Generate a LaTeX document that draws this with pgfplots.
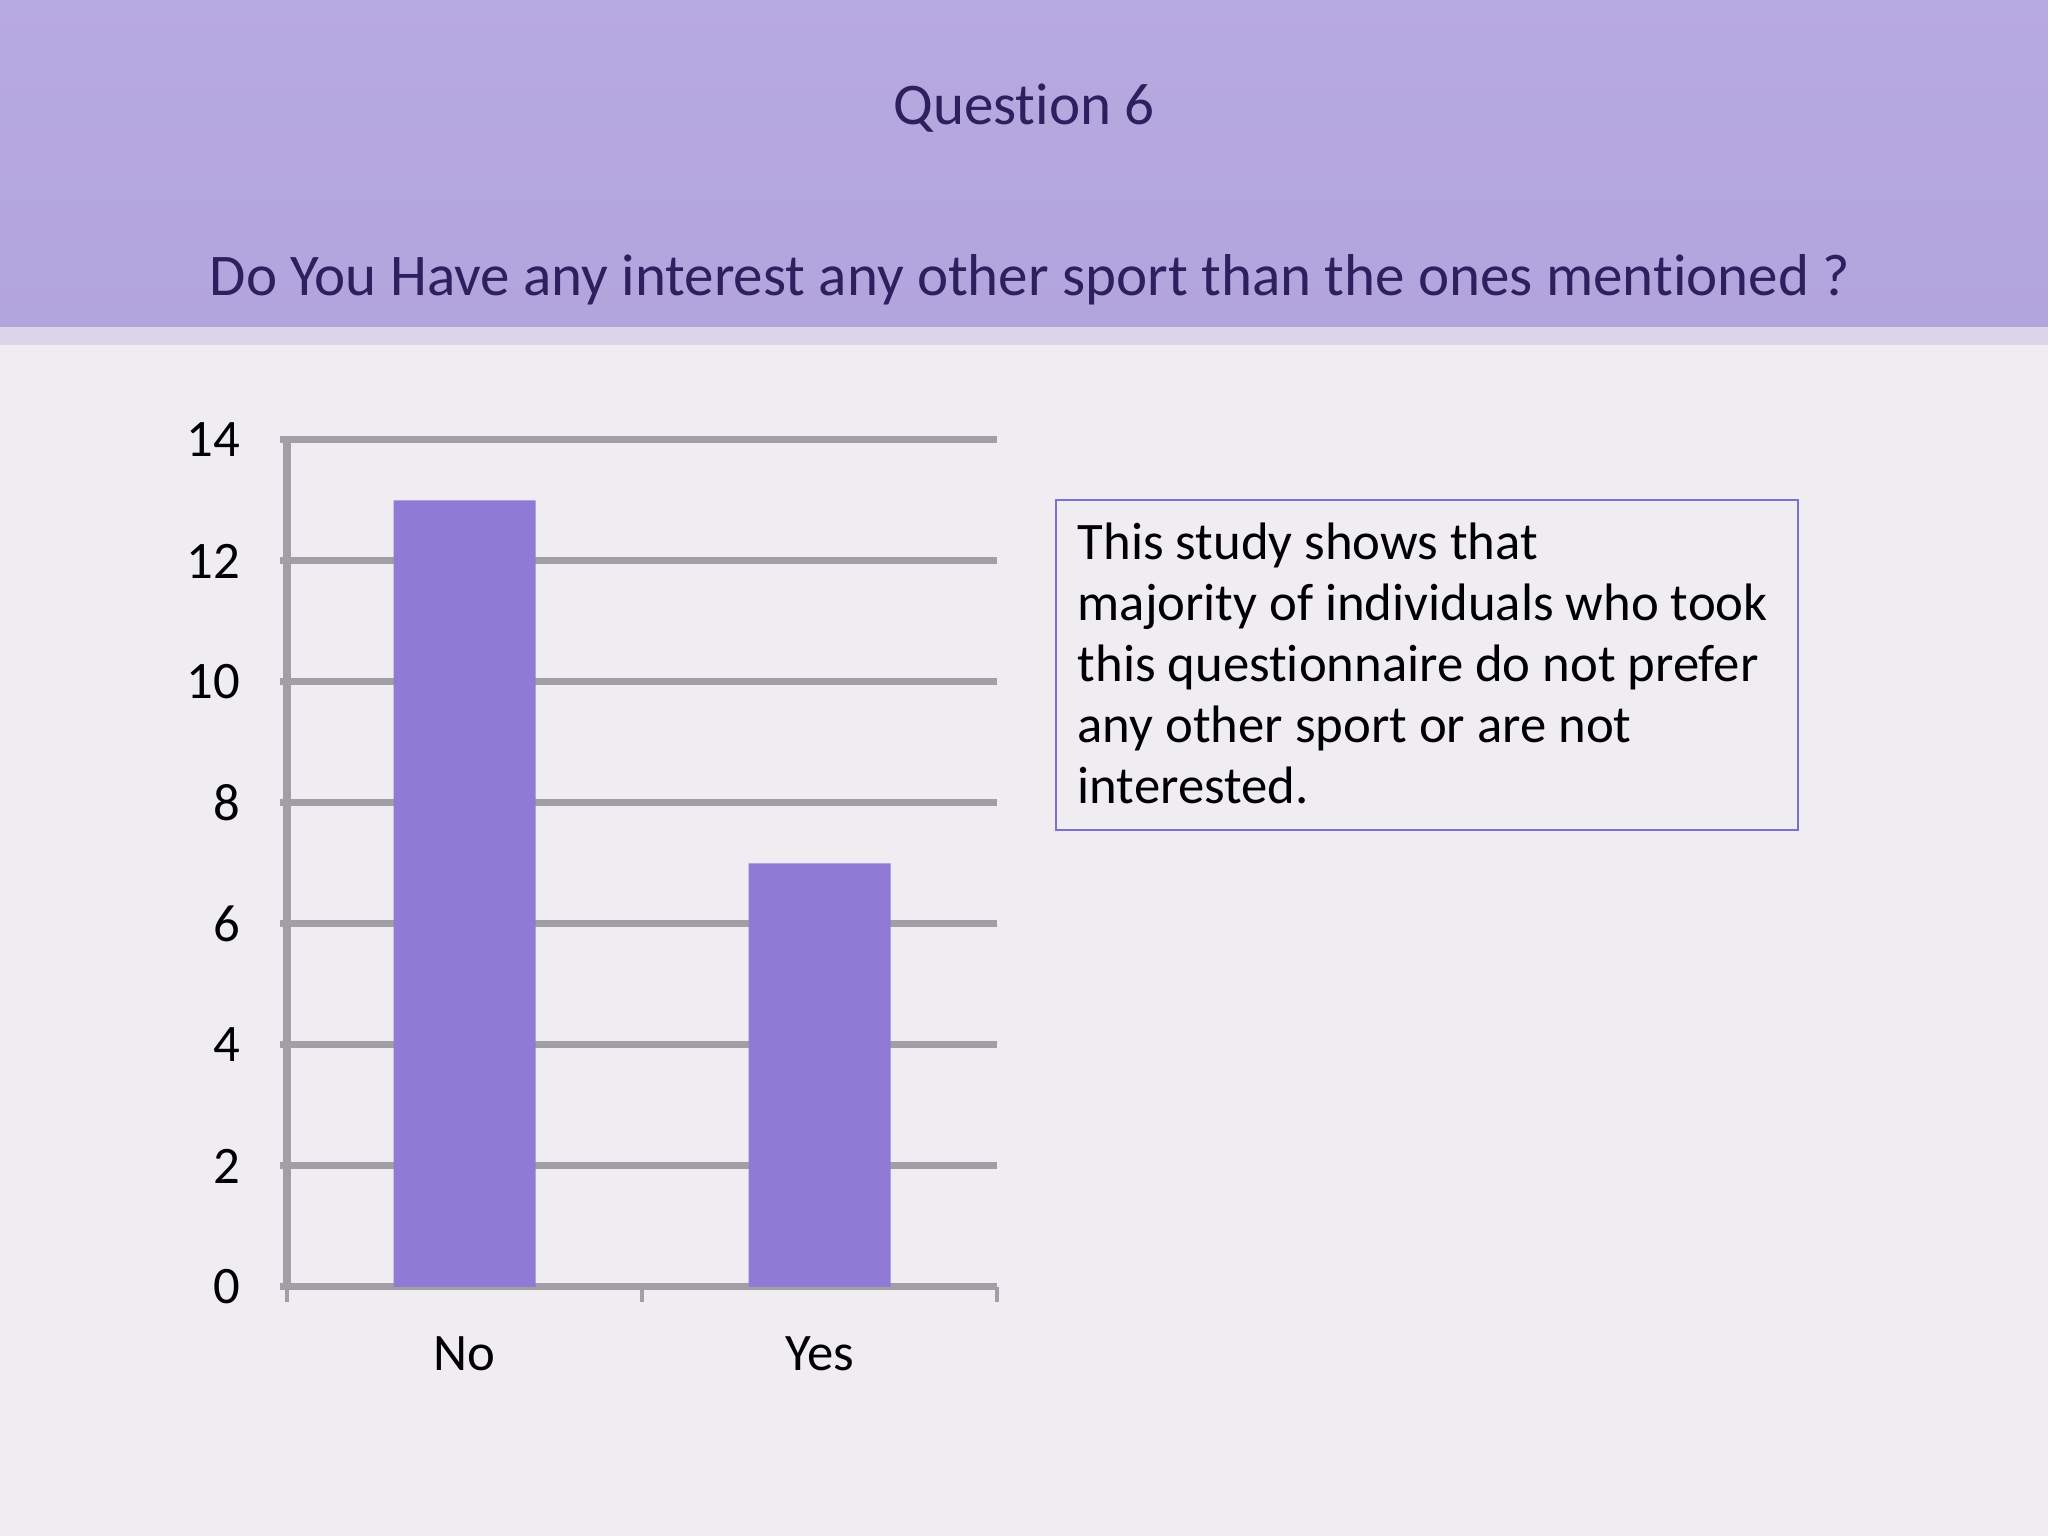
\documentclass[border=0pt]{standalone}
\usepackage{pgfplots}
\pgfplotsset{compat=1.18}
\usepackage{fontspec}
\setmainfont{Carlito}[Ligatures=NoCommon]
\definecolor{bgpaper}{HTML}{EFEDF2}
\definecolor{band}{HTML}{B2A4DC}
\definecolor{bandtop}{HTML}{B7AAE0}
\definecolor{bandedge}{HTML}{DCD6EC}
\definecolor{titlecol}{HTML}{2E1F5E}
\definecolor{barcol}{HTML}{8F7AD6}
\definecolor{gridcol}{HTML}{A19FA5}
\definecolor{boxcol}{HTML}{7B6FD0}
\begin{document}
\begin{tikzpicture}
% page: 2048 x 1536 px, 1px = 0.01cm, y measured from bottom
\fill[bgpaper] (0,0) rectangle (20.48cm,15.36cm);
\fill[bandedge] (0,15.36cm-3.45cm) rectangle (20.48cm,15.36cm-3.20cm);
\shade[top color=bandtop, bottom color=band] (0,15.36cm-3.27cm) rectangle (20.48cm,15.36cm);
\node[font=\fontsize{16.8}{20}\selectfont, text=titlecol, anchor=base] at (10.24cm,15.36cm-1.25cm) {Question 6};
\node[font=\fontsize{16.8}{20}\selectfont, text=titlecol, anchor=base west, inner sep=0pt] at (2.09cm,15.36cm-2.96cm) {Do You Have any interest any other sport than the ones mentioned ?};

% data point (0,0) is placed at pixel (464.5, 1287)
\begin{axis}[
  at={(4.645cm,2.49cm)}, anchor=origin,
  scale only axis,
  width=7.10cm, height=8.47cm,
  ybar, bar width=1.42cm,
  xmin=-0.5, xmax=1.5, ymin=0, ymax=14,
  xtick={0,1}, xticklabels={No,Yes},
  xtick style={draw=none},
  extra x ticks={-0.5,0.5,1.5},
  extra x tick labels={},
  extra x tick style={xtick style={draw=gridcol, line width=1.4pt},
    major tick length=0.15cm, tick align=outside},
  ytick={0,2,...,14},
  ymajorgrids,
  grid style={draw=gridcol, line width=2pt},
  major tick length=0.15cm,
  tick align=outside,
  ytick style={draw=gridcol, line width=2pt},
  axis x line=bottom, axis y line=left,
  axis line style={draw=gridcol, line width=2pt, -},
  /pgf/number format/assume math mode=true,
  ticklabel style={font=\fontsize{15}{18}\selectfont, text=black},
  yticklabel style={xshift=-0.27cm},
  xticklabel style={yshift=-0.3cm},
]
\addplot[fill=barcol, draw=none] coordinates {(0,13) (1,7)};
\end{axis}

\node[draw=boxcol, line width=0.6pt, anchor=north west, minimum width=7.42cm, minimum height=3.30cm,
  inner sep=0pt] at (10.55cm,15.36cm-4.99cm) {};
\node[anchor=north west, align=left, inner sep=0pt,
  font=\fontsize{15}{17.4}\selectfont] at (10.77cm,15.36cm-5.22cm)
  {This study shows that\\majority of individuals who took\\this questionnaire do not prefer\\any other sport or are not\\interested.};
\end{tikzpicture}
\end{document}
